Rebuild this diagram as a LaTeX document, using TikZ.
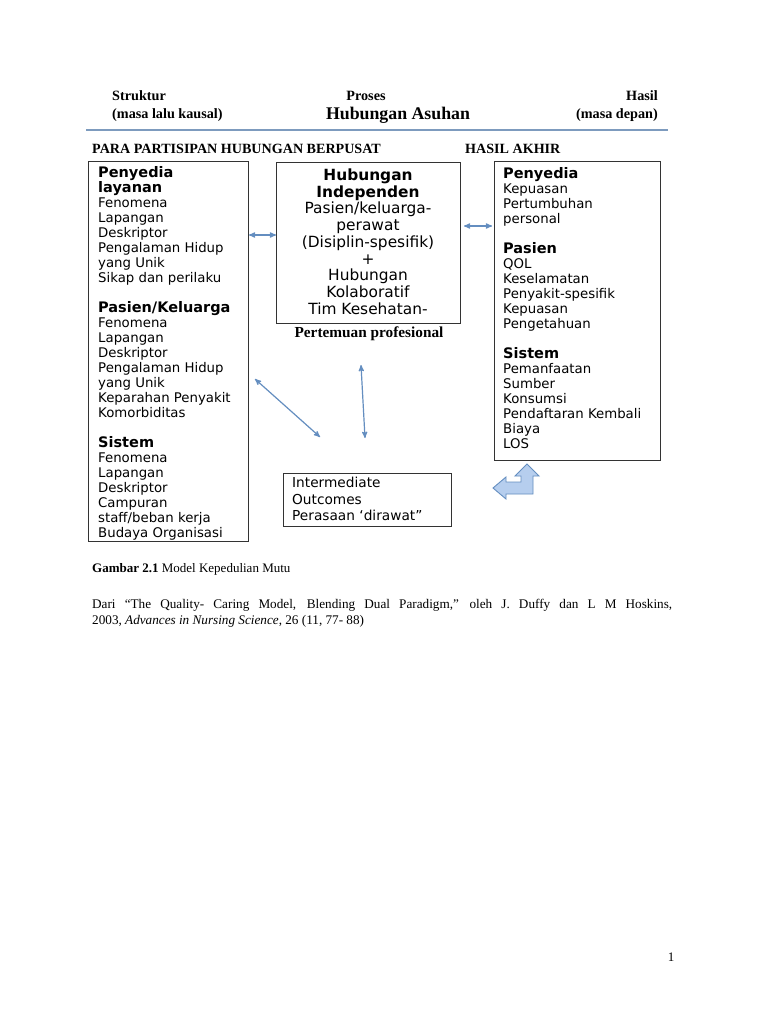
\documentclass[tikz,border=0pt]{standalone}
\usepackage{fontspec}
\setmainfont{Liberation Serif}
\newfontfamily\kotakfont{DejaVu Sans}
\usepackage{xcolor}
\usetikzlibrary{arrows, positioning, calc}
\definecolor{panah}{RGB}{100,142,192}
\definecolor{garis}{RGB}{125,155,190}
\definecolor{isipanah}{RGB}{182,206,238}
\newcommand{\subjudul}[1]{{\fontsize{14.5}{15}\selectfont\bfseries #1}}

\begin{document}
\begin{tikzpicture}[
				x=1pt, y=-1pt,
				>=stealth',
				panel/.style={draw=black!80, line width=1pt, rectangle, anchor=north west, inner sep=0pt},
				isi/.style={inner sep=0pt, align=left, anchor=north west, font=\kotakfont\fontsize{13.3}{15}\selectfont},
				kepala/.style={inner sep=0pt, font=\fontsize{14.2}{16}\selectfont\bfseries},
				tautan/.style={<->, draw=panah, line width=1.2pt}]

			\useasboundingbox[fill=white] (0,0) rectangle (768,1024);

			% judul kolom
			\node[kepala, anchor=west] (struktur) at (112,96) {Struktur};
			\node[kepala] (proses) at (366,96) {Proses};
			\node[kepala, anchor=east] (hasil) at (658,96) {Hasil};
			\node[kepala, anchor=west] (masa_lalu) at (112,115) {(masa lalu kausal)};
			\node[kepala, font=\fontsize{17.8}{20}\selectfont\bfseries] (asuhan) at (398,115) {Hubungan Asuhan};
			\node[kepala, anchor=east] (masa_depan) at (658,115) {(masa depan)};
			\coordinate (garis_kiri) at (86,130);
			\coordinate (garis_kanan) at (668,130);
			\draw[garis, line width=1.8pt] (garis_kiri) -- (garis_kanan);
			\node[kepala, anchor=west, font=\fontsize{14.1}{16}\selectfont\bfseries] (partisipan) at (92,149) {PARA PARTISIPAN HUBUNGAN BERPUSAT};
			\node[kepala, anchor=west, font=\fontsize{14.1}{16}\selectfont\bfseries] (hasil_akhir) at (465,149) {HASIL AKHIR};

			% kotak-kotak
			\node[panel, minimum width=160, minimum height=380] (struktur_box) at (88,161) {};
			\node[panel, minimum width=184, minimum height=161] (proses_box) at (276,162) {};
			\node[panel, minimum width=166, minimum height=299] (hasil_box) at (494,161) {};
			\node[panel, minimum width=168, minimum height=53] (antara_box) at (283,473) {};

			\node[isi] (struktur_isi) at (98,166) {\subjudul{Penyedia}\\ \subjudul{layanan}\\ Fenomena\\ Lapangan\\ Deskriptor\\ Pengalaman Hidup\\ yang Unik\\ Sikap dan perilaku\\[15pt]
				\subjudul{Pasien/Keluarga}\\ Fenomena\\ Lapangan\\ Deskriptor\\ Pengalaman Hidup\\ yang Unik\\ Keparahan Penyakit\\ Komorbiditas\\[15pt]
				\subjudul{Sistem}\\ Fenomena\\ Lapangan\\ Deskriptor\\ Campuran\\ staff/beban kerja\\ Budaya Organisasi};

			\node[isi, anchor=north, align=center, font=\kotakfont\fontsize{15.4}{16.75}\selectfont] (proses_isi) at (368,168.5) {\textbf{Hubungan}\\ \textbf{Independen}\\ Pasien/keluarga-\\ perawat\\ (Disiplin-spesifik)\\ +\\ Hubungan\\ Kolaboratif\\ Tim Kesehatan-};

			\node[isi] (hasil_isi) at (503,167) {\subjudul{Penyedia}\\ Kepuasan\\ Pertumbuhan\\ personal\\[15pt]
				\subjudul{Pasien}\\ QOL\\ Keselamatan\\ Penyakit-spesifik\\ Kepuasan\\ Pengetahuan\\[15pt]
				\subjudul{Sistem}\\ Pemanfaatan\\ Sumber\\ Konsumsi\\ Pendaftaran Kembali\\ Biaya\\ LOS};

			\node[isi, font=\kotakfont\fontsize{13.7}{16.5}\selectfont] (antara_isi) at (292,477) {Intermediate\\ Outcomes\\ Perasaan ‘dirawat”};

			\node[kepala, font=\fontsize{15.3}{17}\selectfont\bfseries] (pertemuan) at (369,334) {Pertemuan profesional};

			% panah
			\coordinate (miring_a) at (255,379);
			\coordinate (miring_b) at (320,437);
			\coordinate (tegak_a) at (361,365);
			\coordinate (tegak_b) at (365,438);

			\draw[tautan] (struktur_box.east |- 0,235) -- (proses_box.west |- 0,235);
			\draw[tautan, shorten <=3pt, shorten >=2pt] (proses_box.east |- 0,226) -- (hasil_box.west |- 0,226);
			\draw[tautan] (miring_a) -- (miring_b);
			\draw[tautan] (tegak_a) -- (tegak_b);

			\draw[fill=isipanah, draw=panah, line width=0.9pt, line join=miter]
				(527,464) -- (539,476) -- (533,476) -- (533,494) -- (506,494) -- (506,499) -- (493,488)
				-- (506,477) -- (506,482) -- (521,482) -- (521,476) -- (515,476) -- cycle;

			% keterangan gambar
			\node[inner sep=0pt, anchor=west, font=\fontsize{13}{16}\selectfont] (gambar) at (92,569) {\textbf{Gambar 2.1} Model Kepedulian Mutu};
			\node[inner sep=0pt, anchor=north west, text width=580, align=justify, font=\fontsize{13.2}{16}\selectfont] (sumber) at (92,599) {Dari “The Quality- Caring Model, Blending Dual Paradigm,” oleh J. Duffy dan L M Hoskins,\linebreak 2003, \textit{Advances in Nursing Science}, 26 (11, 77- 88)};
			\node[inner sep=0pt, font=\fontsize{13}{15}\selectfont] (halaman) at (671,957) {1};

		\end{tikzpicture}
\end{document}
